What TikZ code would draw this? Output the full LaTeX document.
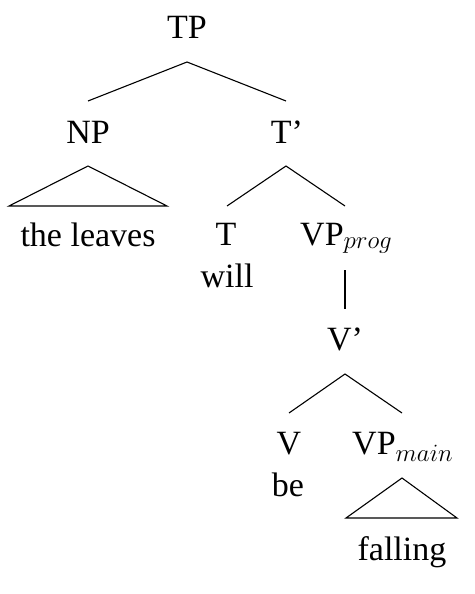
\documentclass[tikz,border=0pt]{standalone}
\usepackage{fontspec}
\setmainfont{Liberation Serif}
\begin{document}
\begin{tikzpicture}[x=1pt,y=-1pt,
  lab/.style={anchor=base,inner sep=0pt,font=\fontsize{34}{40}\selectfont},
  edge/.style={line width=1.1pt,black}]
\useasboundingbox (0,0) rectangle (474,594);
% labels
\node[lab] (TP) at (187,38) {TP};
\node[lab] (NP) at (88,143) {NP};
\node[lab] (Tbar) at (287,143) {T’};
\node[lab] (leaves) at (88,246) {the leaves};
\node[lab] (T) at (226,245) {T};
\node[lab] (will) at (227,287) {will};
\node[lab,anchor=base west] (VPprog) at (300,245) {VP$_{prog}$};
\node[lab] (Vbar) at (345,350) {V’};
\node[lab] (V) at (289,454) {V};
\node[lab] (be) at (288,496) {be};
\node[lab,anchor=base west] (VPmain) at (352,454) {VP$_{main}$};
\node[lab] (falling) at (402,560) {falling};
% connector points
\coordinate (tpA) at (187,62);
\coordinate (npT) at (88,101);
\coordinate (tbT) at (286,101);
\coordinate (npA) at (88,166);
\coordinate (npL) at (9,206);
\coordinate (npR) at (167,206);
\coordinate (tbA) at (286,166);
\coordinate (tT) at (227,206);
\coordinate (vpT) at (345,206);
\coordinate (vpB) at (345,270);
\coordinate (vbT) at (345,309);
\coordinate (vbA) at (345,374);
\coordinate (vT) at (289,413);
\coordinate (vmT) at (402,413);
\coordinate (vmA) at (402,478);
\coordinate (vmL) at (346,518);
\coordinate (vmR) at (457,518);
% edges
\draw[edge] (npT) -- (tpA) -- (tbT);
\draw[edge] (npA) -- (npL) -- (npR) -- cycle;
\draw[edge] (tT) -- (tbA) -- (vpT);
\draw[edge] (vpB) -- (vbT);
\draw[edge] (vT) -- (vbA) -- (vmT);
\draw[edge] (vmA) -- (vmL) -- (vmR) -- cycle;
\end{tikzpicture}
\end{document}
